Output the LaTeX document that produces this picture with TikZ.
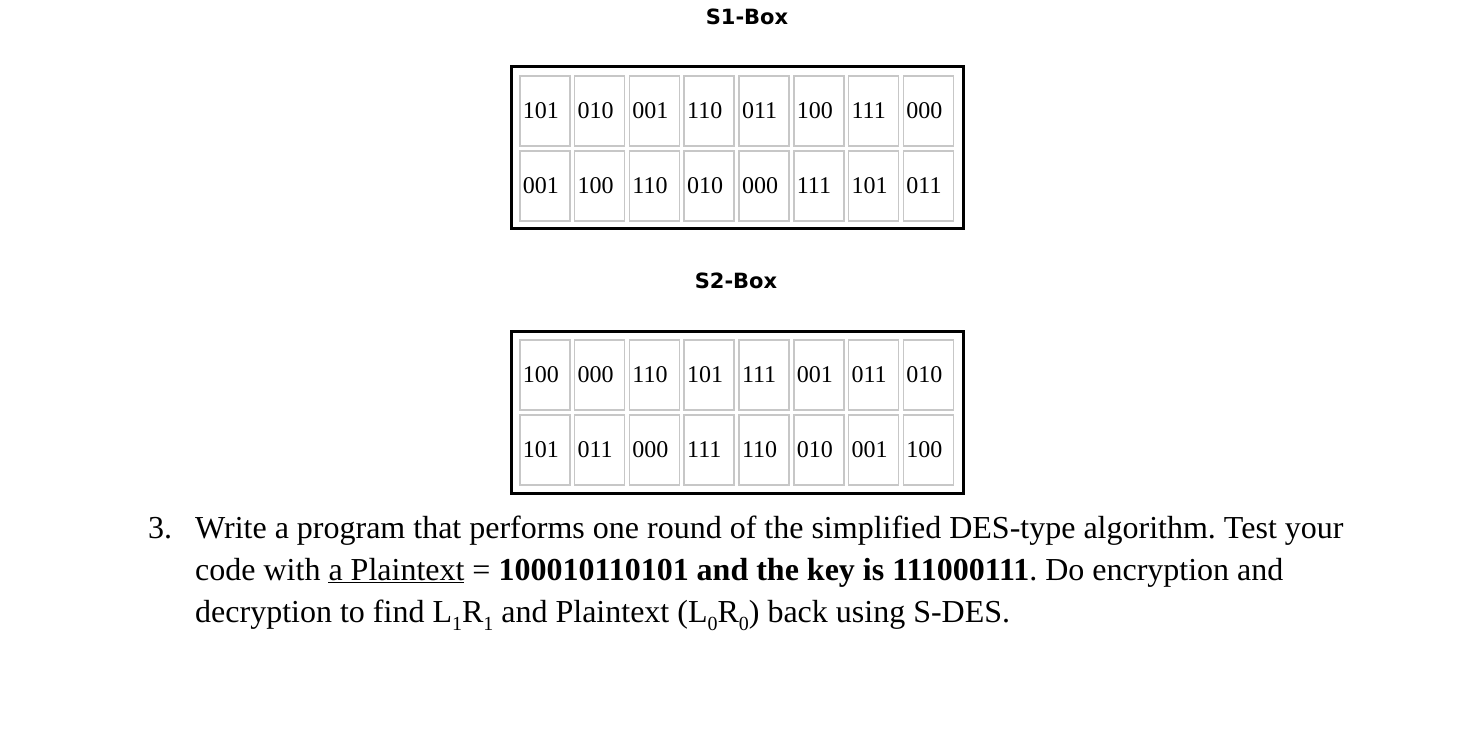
\documentclass[tikz,border=0pt]{standalone}
\usepackage{fontspec}
\setmainfont{Liberation Serif}
\newfontfamily\vfont{DejaVu Sans}
\newcommand{\sbs}[1]{\raisebox{-0.25em}{\fontsize{20}{20}\selectfont #1}}
\newcommand{\gul}[1]{\tikz[baseline=(u.base)]\node[inner sep=0pt,outer sep=0pt] (u) {#1}; \tikz[overlay]\draw[black!55,line width=0.8pt] ([yshift=-3pt]u.base west) -- ([yshift=-3pt]u.base east);}
\begin{document}
\frenchspacing
\begin{tikzpicture}[x=1pt,y=-1pt,
  cellbox/.style={draw=black!22,line width=1.6pt,fill=white,minimum width=50pt,minimum height=70pt,inner sep=3pt,anchor=north west,
    text width=44pt,align=left,font=\fontsize{24}{24}\selectfont},
  outerbox/.style={draw=black,line width=3pt},
  titletext/.style={font=\vfont\bfseries\fontsize{21}{21}\selectfont},
  bodytext/.style={anchor=base west,inner sep=0pt,font=\fontsize{32}{32}\selectfont}]
\useasboundingbox (0,0) rectangle (1467,730);
\node[titletext] (t1) at (747,17) {S1-Box};
\node[titletext] (t2) at (736,281) {S2-Box};
\draw[outerbox] (511,67) rectangle (963,229);
\draw[outerbox] (511,331) rectangle (963,493);
\foreach \v [count=\i from 0] in {101,010,001,110,011,100,111,000}
  \node[cellbox] (a\i) at (519+54.8*\i,75) {\v};
\foreach \v [count=\i from 0] in {001,100,110,010,000,111,101,011}
  \node[cellbox] (b\i) at (519+54.8*\i,150) {\v};
\foreach \v [count=\i from 0] in {100,000,110,101,111,001,011,010}
  \node[cellbox] (c\i) at (519+54.8*\i,339) {\v};
\foreach \v [count=\i from 0] in {101,011,000,111,110,010,001,100}
  \node[cellbox] (d\i) at (519+54.8*\i,414) {\v};
\node[bodytext] (n) at (148,538) {3.};
\node[bodytext] (l1) at (195,538) {Write a program that performs one round of the simplified DES-type algorithm. Test your};
\node[bodytext] (l2) at (195,580) {code with \underline{a Plaintext} = \textbf{100010110101 and the key is 111000111}. Do encryption and};
\node[bodytext] (l3) at (195,622) {decryption to find L\sbs{1}R\sbs{1} and Plaintext (L\sbs{0}R\sbs{0}) back using S-DES.};
\end{tikzpicture}
\end{document}
